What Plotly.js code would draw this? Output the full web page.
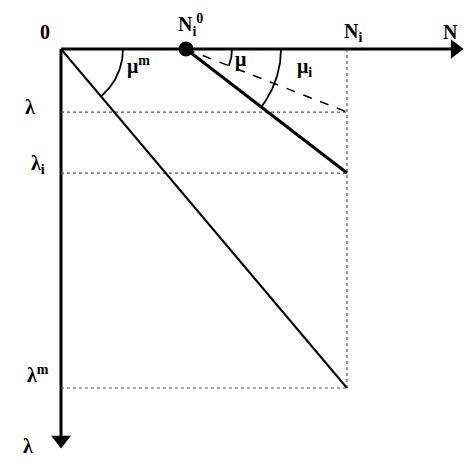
<!DOCTYPE html>
<html>
<head>
<meta charset="utf-8">
<script src="https://cdn.plot.ly/plotly-3.0.1.min.js"></script>
<style>html,body{margin:0;padding:0;background:#fff;}#chart{width:474px;height:470px;}</style>
</head>
<body>
<div id="chart"></div>
<script>
// ---- data (N axis horizontal, lambda axis pointing down) ----
var N0 = 0.437;          // N_i^0 (start point, dot)
var Ni = 1.0;            // N_i
var NMax = 1.406;        // end of N axis
var lam = 0.186;         // lambda
var lamI = 0.366;        // lambda_i
var lamM = 1.0;          // lambda^m
var lamMax = 1.177;      // end of lambda axis
var xLabels = ["0", "N<sub>i</sub><sup>0</sup>", "N<sub>i</sub>", "N"];
var yLabels = ["λ", "λ<sub>i</sub>", "λ<sup>m</sup>", "λ"];
var angleLabels = ["μ<sup>m</sup>", "μ", "μ<sub>i</sub>"];

// pixel scales (used only to keep arcs round and arrowheads aligned)
var pxX = 286, pxY = 339;

function arc(cx, cy, rPx, x2, y2) {
  var a = Math.atan2((y2 - cy) * pxY, (x2 - cx) * pxX);
  var xs = [], ys = [];
  for (var k = 0; k <= 40; k++) {
    var t = a * k / 40;
    xs.push(cx + rPx * Math.cos(t) / pxX);
    ys.push(cy + rPx * Math.sin(t) / pxY);
  }
  return {x: xs, y: ys};
}

var black = '#000';
var traces = [];
var head = 8; // px, half arrowhead length
// axes lines
traces.push({x: [0, NMax - head / pxX], y: [0, 0], mode: 'lines', line: {color: black, width: 3}});
traces.push({x: [0, 0], y: [0, lamMax - head / pxY], mode: 'lines', line: {color: black, width: 3}});
// dotted guides
var dot = {color: '#555', width: 1.2, dash: 'dot'};
traces.push({x: [Ni, Ni], y: [0, lamM], mode: 'lines', line: dot});
traces.push({x: [0, Ni], y: [lam, lam], mode: 'lines', line: dot});
traces.push({x: [0, Ni], y: [lamI, lamI], mode: 'lines', line: dot});
traces.push({x: [0, Ni], y: [lamM, lamM], mode: 'lines', line: dot});
// main lines
traces.push({x: [0, Ni], y: [0, lamM], mode: 'lines', line: {color: black, width: 2}});
traces.push({x: [N0, Ni], y: [0, lamI], mode: 'lines', line: {color: black, width: 3}});
traces.push({x: [N0, Ni], y: [0, lam], mode: 'lines', line: {color: black, width: 1.5, dash: 'dash'}});
// arcs
var a1 = arc(0, 0, 62, Ni, lamM);
var a2 = arc(N0, 0, 46, Ni, lam);
var a3 = arc(N0, 0, 95, Ni, lamI);
[a1, a2, a3].forEach(function (a) {
  traces.push({x: a.x, y: a.y, mode: 'lines', line: {color: black, width: 1.8}});
});
// arrowheads
traces.push({x: [NMax - head / pxX], y: [0], mode: 'markers',
  marker: {symbol: 'triangle-right', color: black, size: 17}});
traces.push({x: [0], y: [lamMax - head / pxY], mode: 'markers',
  marker: {symbol: 'triangle-down', color: black, size: 17}});
// start dot
traces.push({x: [N0], y: [0], mode: 'markers', marker: {color: black, size: 15}});
traces.forEach(function (t) { t.hoverinfo = 'skip'; t.showlegend = false; t.type = 'scatter'; });

var fnt = {family: 'Liberation Serif, Times New Roman, serif', size: 20, color: black, weight: 'bold'};
var ann = [];
function lab(t, x, y) {
  ann.push({text: t, x: x, y: y, xref: 'x', yref: 'y', showarrow: false, font: fnt,
    xanchor: 'center', yanchor: 'middle'});
}
// x labels
lab(xLabels[0], -0.056, -0.05);
lab(xLabels[1], N0 + 0.015, -0.07);
lab(xLabels[2], Ni + 0.02, -0.05);
lab(xLabels[3], NMax - 0.045, -0.05);
// y labels
lab(yLabels[0], -0.11, lam - 0.014);
lab(yLabels[1], -0.08, lamI - 0.025);
lab(yLabels[2], -0.08, lamM - 0.04);
lab(yLabels[3], -0.115, lamMax - 0.005);
// angle labels
lab(angleLabels[0], 0.27, 0.05);
lab(angleLabels[1], 0.63, 0.03);
lab(angleLabels[2], 0.85, 0.055);

var layout = {
  width: 474, height: 470,
  margin: {l: 0, r: 0, t: 0, b: 0},
  paper_bgcolor: '#fff', plot_bgcolor: '#fff',
  showlegend: false,
  xaxis: {range: [-0.2133, 1.4441], visible: false, fixedrange: true},
  yaxis: {range: [1.2419, -0.1445], visible: false, fixedrange: true},
  annotations: ann
};
Plotly.newPlot('chart', traces, layout, {staticPlot: true, displayModeBar: false});
</script>
</body>
</html>
